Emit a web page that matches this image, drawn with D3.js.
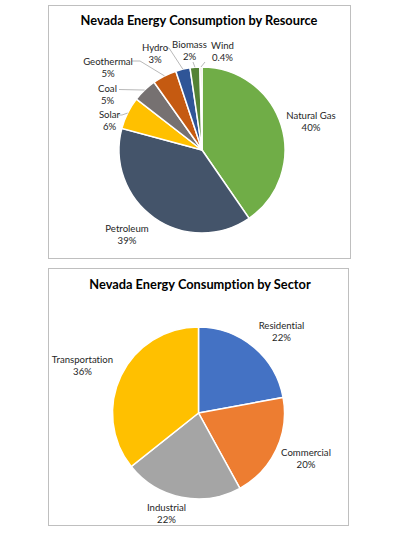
<!DOCTYPE html>
<html>
<head>
<meta charset="utf-8">
<script src="https://cdn.jsdelivr.net/npm/d3@7"></script>
<style>
  body { margin: 0; background: #fff; }
  svg text { font-family: Lato, "Open Sans", sans-serif; fill: #262626; font-variant-ligatures: none; font-feature-settings: "liga" 0; }
</style>
</head>
<body>
<div id="chart"></div>
<script>
// Resource data (percent of consumption), clockwise from 12 o'clock
var resourceNames = ["Natural Gas", "Petroleum", "Solar", "Coal", "Geothermal", "Hydro", "Biomass", "Wind"];
var resourceValues = [40.4, 38.8, 6.3, 4.7, 4.7, 2.8, 1.9, 0.4];
var resourceColors = ["#70AD47", "#44546A", "#FFC000", "#767171", "#C55A11", "#2F5597", "#548235", "#D9D4C4"];

// Sector data
var sectorNames = ["Residential", "Commercial", "Industrial", "Transportation"];
var sectorValues = [22.1, 19.9, 22.3, 35.7];
var sectorColors = ["#4472C4", "#ED7D31", "#A5A5A5", "#FFC000"];

var svgWidth = 399;
var svgHeight = 533;

var svg = d3.select("#chart")
    .append("svg")
    .attr("width", svgWidth)
    .attr("height", svgHeight);

// label text = rounded percent, small values keep one decimal
function pctLabel(v) {
    return (v < 1 ? d3.format(".1f")(v) : d3.format(".0f")(v)) + "%";
}

function drawPie(opts) {
    var g = svg.append("g");

    // chart frame
    g.append("rect")
        .attr("x", opts.box.x + 0.5)
        .attr("y", opts.box.y + 0.5)
        .attr("width", opts.box.w)
        .attr("height", opts.box.h)
        .attr("fill", "#fff")
        .attr("stroke", "#BFBFBF")
        .attr("stroke-width", 1);

    g.append("text")
        .attr("x", opts.titleX)
        .attr("y", opts.titleY)
        .attr("text-anchor", "middle")
        .attr("font-size", 12.8)
        .attr("font-weight", "bold")
        .style("fill", "#000")
        .text(opts.title);

    var pie = d3.pie().sort(null).value(d => d.value);
    var arcs = pie(opts.names.map((n, i) => ({ name: n, value: opts.values[i], color: opts.colors[i] })));

    var arc = d3.arc().innerRadius(0).outerRadius(opts.r);

    var pieGroup = g.append("g")
        .attr("transform", `translate(${opts.cx}, ${opts.cy})`);

    pieGroup.selectAll("path.slice")
        .data(arcs)
        .enter()
        .append("path")
        .attr("class", "slice")
        .attr("d", arc)
        .attr("fill", d => d.data.color)
        .attr("stroke", "#fff")
        .attr("stroke-width", 1.5);

    // leader lines for the small slices
    pieGroup.selectAll("polyline")
        .data(arcs.filter((d, i) => opts.leaders[i]))
        .enter()
        .append("polyline")
        .attr("points", d => {
            var i = arcs.indexOf(d);
            var mid = (d.startAngle + d.endAngle) / 2;
            var end = [opts.r * Math.sin(mid), -opts.r * Math.cos(mid)];
            var start = opts.leaders[i];
            return [start, [start[0] + (start[2] || 0), start[1]], end].map(p => p[0] + "," + p[1]).join(" ");
        })
        .attr("fill", "none")
        .attr("stroke", "#A6A6A6")
        .attr("stroke-width", 0.8);

    var labels = pieGroup.selectAll("text.lbl")
        .data(arcs)
        .enter()
        .append("text")
        .attr("class", "lbl")
        .attr("text-anchor", "middle")
        .attr("font-size", 9.6)
        .attr("transform", (d, i) => `translate(${opts.labelPos[i][0]}, ${opts.labelPos[i][1]})`);

    labels.append("tspan")
        .attr("x", 0)
        .attr("y", 0)
        .text(d => d.data.name);

    labels.append("tspan")
        .attr("x", 0)
        .attr("y", 12)
        .text(d => pctLabel(d.data.value));
}

// Top chart: by resource
drawPie({
    box: { x: 48, y: 5, w: 302, h: 253 },
    title: "Nevada Energy Consumption by Resource",
    titleX: 199, titleY: 25,
    cx: 202, cy: 150, r: 83,
    names: resourceNames, values: resourceValues, colors: resourceColors,
    // label anchor (first baseline) relative to pie centre
    labelPos: [[109, -31.5], [-75, 82], [-92.5, -32.5], [-94.5, -58.5], [-94, -85.5], [-47, -99.5], [-12.5, -102], [20.5, -101.5]],
    // leader start points relative to pie centre [x, y, horizontal run]
    leaders: [null, null, [-83, -35, 3], [-83, -60.5, 0], [-70, -89, 8], [-36, -102, 3], [-9, -88, 0], [3, -88, 0]]
});

// Bottom chart: by sector
drawPie({
    box: { x: 48, y: 268, w: 300, h: 257 },
    title: "Nevada Energy Consumption by Sector",
    titleX: 200, titleY: 289,
    cx: 198.5, cy: 413, r: 86,
    names: sectorNames, values: sectorValues, colors: sectorColors,
    labelPos: [[83, -84.5], [107.5, 43], [-32, 97.5], [-116, -50.5]],
    leaders: [null, null, null, null]
});
</script>
</body>
</html>
